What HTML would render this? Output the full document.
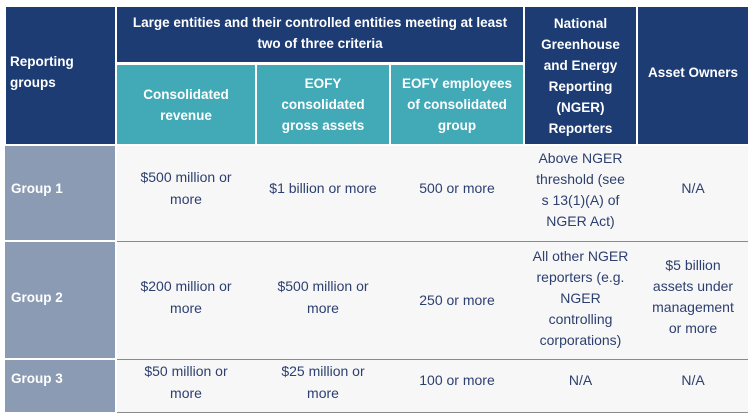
<!DOCTYPE html><html><head><style>
body{margin:0;width:754px;height:416px;background:#fff;position:relative;overflow:hidden;font-family:"Liberation Sans",sans-serif}
.c{position:absolute;display:flex;align-items:center;justify-content:center;text-align:center;box-sizing:border-box;padding:0 4px}
.h{background:#1d3c74;color:#fff;font-weight:bold;font-size:13.5px;line-height:21px}
.t{background:#42a9b7;color:#fff;font-weight:bold;font-size:13.5px;line-height:21px}
.g{background:#8b9bb4;color:#fff;font-weight:bold;font-size:13.5px;justify-content:flex-start;padding-left:6px}
.b{color:#2c3f6f;font-size:14px;line-height:22px}
.ln{position:absolute;left:117px;width:631px;height:1px;background:#8a8a8a}
</style></head><body>
<div class="c h" style="left:6px;top:7px;width:109px;height:137px;justify-content:flex-start;text-align:left;padding-bottom:8px">Reporting<br>groups</div>
<div class="c h" style="left:117px;top:7px;width:406px;height:55px;padding-bottom:4px">Large entities and their controlled entities meeting at least<br>two of three criteria</div>
<div class="c t" style="left:117px;top:65px;width:138px;height:79px">Consolidated<br>revenue</div>
<div class="c t" style="left:257px;top:65px;width:132px;height:79px">EOFY<br>consolidated<br>gross assets</div>
<div class="c t" style="left:391px;top:65px;width:132px;height:79px">EOFY employees<br>of consolidated<br>group</div>
<div class="c h" style="left:525px;top:7px;width:111px;height:137px">National<br>Greenhouse<br>and Energy<br>Reporting<br>(NGER)<br>Reporters</div>
<div class="c h" style="left:638px;top:7px;width:110px;height:137px;padding-bottom:6px">Asset Owners</div>
<div style="position:absolute;left:117px;top:146px;width:631px;height:266px;background:#f7f7f7"></div>
<div class="ln" style="top:241px"></div><div class="ln" style="top:359px"></div><div class="ln" style="top:412px"></div>
<div class="c g" style="left:5px;top:146px;width:110px;height:94px;padding-bottom:10px">Group 1</div>
<div class="c g" style="left:5px;top:242px;width:110px;height:116px;padding-bottom:6px">Group 2</div>
<div class="c g" style="left:5px;top:360px;width:110px;height:52px;padding-bottom:16px">Group 3</div>
<div class="c b" style="left:117px;top:146px;width:138px;height:94px;padding-bottom:10px">$500 million or<br>more</div>
<div class="c b" style="left:257px;top:146px;width:132px;height:94px;padding-bottom:10px">$1 billion or more</div>
<div class="c b" style="left:391px;top:146px;width:132px;height:94px;padding-bottom:10px">500 or more</div>
<div class="c b" style="left:525px;top:146px;width:111px;height:94px;line-height:21px;padding-bottom:6px">Above NGER<br>threshold (see<br>s 13(1)(A) of<br>NGER Act)</div>
<div class="c b" style="left:638px;top:146px;width:110px;height:94px;padding-bottom:10px">N/A</div>
<div class="c b" style="left:117px;top:242px;width:138px;height:116px;padding-bottom:6px">$200 million or<br>more</div>
<div class="c b" style="left:257px;top:242px;width:132px;height:116px;padding-bottom:6px">$500 million or<br>more</div>
<div class="c b" style="left:391px;top:242px;width:132px;height:116px">250 or more</div>
<div class="c b" style="left:525px;top:242px;width:111px;height:116px;line-height:21px;padding-bottom:4px">All other NGER<br>reporters (e.g.<br>NGER<br>controlling<br>corporations)</div>
<div class="c b" style="left:638px;top:242px;width:110px;height:116px;line-height:21px;padding-bottom:6px">$5 billion<br>assets under<br>management<br>or more</div>
<div class="c b" style="left:117px;top:360px;width:138px;height:44px">$50 million or<br>more</div>
<div class="c b" style="left:257px;top:360px;width:132px;height:44px">$25 million or<br>more</div>
<div class="c b" style="left:391px;top:360px;width:132px;height:40px">100 or more</div>
<div class="c b" style="left:525px;top:360px;width:111px;height:40px">N/A</div>
<div class="c b" style="left:638px;top:360px;width:110px;height:40px">N/A</div>
</body></html>
